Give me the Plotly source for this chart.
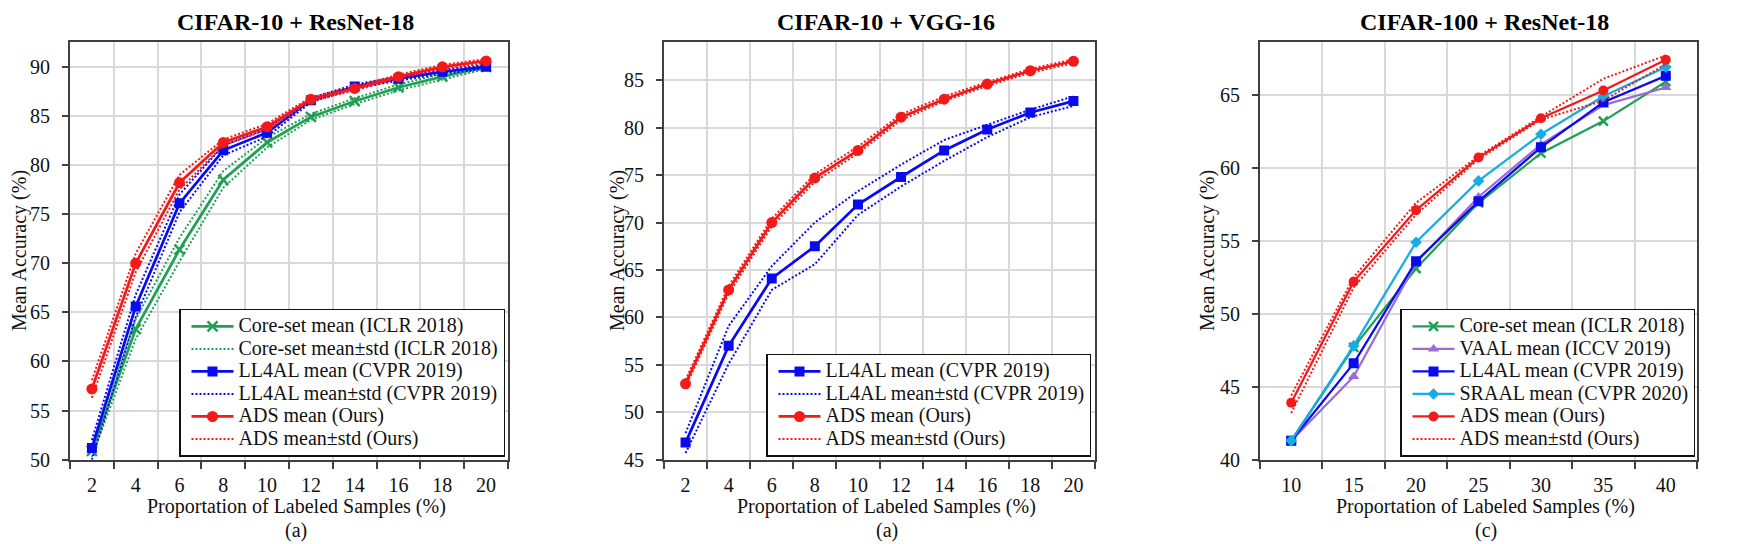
import plotly.graph_objects as go

# ---------------- data ----------------
x_c10 = [2, 4, 6, 8, 10, 12, 14, 16, 18, 20]
x_c100 = [10, 15, 20, 25, 30, 35, 40]

# Panel 1: CIFAR-10 + ResNet-18
p1_coreset_mean = [50.9, 63.3, 71.4, 78.5, 82.3, 84.9, 86.5, 87.9, 89.0, 90.0]
p1_coreset_upper = [51.5, 64.3, 72.6, 79.4, 82.8, 85.2, 86.8, 88.2, 89.3, 90.2]
p1_coreset_lower = [50.3, 62.3, 70.2, 77.7, 81.8, 84.6, 86.2, 87.6, 88.7, 89.8]
p1_ll4al_mean = [51.2, 65.6, 76.1, 81.5, 83.3, 86.6, 88.0, 88.8, 89.5, 90.0]
p1_ll4al_upper = [52.0, 66.8, 77.0, 82.0, 83.7, 86.8, 88.2, 89.0, 89.7, 90.2]
p1_ll4al_lower = [50.0, 64.5, 75.2, 81.0, 82.9, 86.4, 87.8, 88.6, 89.3, 89.8]
p1_ads_mean = [57.2, 70.0, 78.2, 82.3, 83.9, 86.7, 87.8, 89.0, 90.0, 90.6]
p1_ads_upper = [58.1, 71.0, 79.0, 82.6, 84.2, 86.9, 88.0, 89.2, 90.2, 90.8]
p1_ads_lower = [56.3, 69.1, 77.5, 82.0, 83.6, 86.5, 87.6, 88.8, 89.8, 90.4]

# Panel 2: CIFAR-10 + VGG-16
p2_ll4al_mean = [46.8, 57.0, 64.1, 67.5, 71.9, 74.8, 77.6, 79.8, 81.6, 82.8]
p2_ll4al_upper = [47.8, 59.1, 65.4, 70.0, 73.3, 76.1, 78.7, 80.3, 81.9, 83.3]
p2_ll4al_lower = [45.7, 55.1, 62.9, 65.6, 70.8, 73.8, 76.5, 79.0, 81.1, 82.3]
p2_ads_mean = [53.0, 62.9, 70.0, 74.7, 77.6, 81.1, 83.0, 84.6, 86.0, 87.0]
p2_ads_upper = [53.4, 63.3, 70.4, 75.1, 78.0, 81.4, 83.3, 84.8, 86.2, 87.2]
p2_ads_lower = [52.7, 62.5, 69.6, 74.3, 77.3, 80.8, 82.8, 84.4, 85.8, 86.8]

# Panel 3: CIFAR-100 + ResNet-18
p3_coreset_mean = [41.3, 47.7, 53.1, 57.6, 61.0, 63.2, 65.9]
p3_vaal_mean = [41.3, 45.7, 53.5, 58.0, 61.6, 64.3, 65.5]
p3_ll4al_mean = [41.3, 46.6, 53.6, 57.7, 61.4, 64.5, 66.3]
p3_sraal_mean = [41.3, 47.8, 54.9, 59.1, 62.3, 64.9, 66.9]
p3_ads_mean = [43.9, 52.2, 57.1, 60.7, 63.4, 65.3, 67.4]
p3_ads_upper = [44.4, 52.5, 57.6, 60.8, 63.5, 66.1, 67.7]
p3_ads_lower = [43.2, 51.8, 56.8, 60.6, 63.3, 64.6, 67.1]

titles = ["CIFAR-10 + ResNet-18", "CIFAR-10 + VGG-16", "CIFAR-100 + ResNet-18"]
sublabels = ["(a)", "(a)", "(c)"]
x_title = "Proportation of Labeled Samples (%)"
y_title = "Mean Accuracy (%)"

# ---------------- style ----------------
W, H = 1752, 544
FONT = "Liberation Serif"
GREEN = "#1FA055"
BLUE = "#0A0AF0"
RED = "#F41A1A"
PURPLE = "#9B6BD6"
CYAN = "#14ADE6"
GRID = "#D9D9D9"
AXIS = "#404040"
DOT = "2px,2px"
LEG_TEXT = 20      # rendered legend text size
LEG_ROW = 15       # legend font size used only for row spacing


def px_x(p):
    return p / W


def px_y(p):
    return (H - p) / H


def leg_name(s):
    return f'<span style="font-size:{LEG_TEXT}px">{s}</span>'


boxes = [(62, 500), (656, 1087), (1252, 1689)]
TOP, BOT = 35, 461
yranges = [[50, 92.5], [45, 89], [40, 68.6]]

fig = go.Figure()


def add_mean(xs, ys, name, color, symbol, axis, legend, size=10, width=2.75, mline=0):
    fig.add_trace(go.Scatter(
        x=xs, y=ys, name=leg_name(name), mode="lines+markers",
        line=dict(color=color, width=width),
        marker=dict(color=color, symbol=symbol, size=size,
                    line=dict(color=color, width=mline)),
        xaxis=f"x{axis}", yaxis=f"y{axis}", legend=legend, showlegend=True))


def add_std(xs, upper, lower, name, color, axis, legend):
    grp = f"{name}{axis}"
    fig.add_trace(go.Scatter(
        x=xs, y=upper, name=leg_name(name), mode="lines",
        line=dict(color=color, width=2, dash=DOT),
        xaxis=f"x{axis}", yaxis=f"y{axis}", legend=legend, showlegend=True,
        legendgroup=grp))
    fig.add_trace(go.Scatter(
        x=xs, y=lower, name=leg_name(name), mode="lines",
        line=dict(color=color, width=2, dash=DOT),
        xaxis=f"x{axis}", yaxis=f"y{axis}", legend=legend, showlegend=False,
        legendgroup=grp))


# Panel 1
add_mean(x_c10, p1_coreset_mean, "Core-set mean (ICLR 2018)", GREEN, "x-thin", "", "legend", size=10, mline=2.5)
add_std(x_c10, p1_coreset_upper, p1_coreset_lower, "Core-set mean±std (ICLR 2018)", GREEN, "", "legend")
add_mean(x_c10, p1_ll4al_mean, "LL4AL mean (CVPR 2019)", BLUE, "square", "", "legend", size=10)
add_std(x_c10, p1_ll4al_upper, p1_ll4al_lower, "LL4AL mean±std (CVPR 2019)", BLUE, "", "legend")
add_mean(x_c10, p1_ads_mean, "ADS mean (Ours)", RED, "circle", "", "legend", size=11)
add_std(x_c10, p1_ads_upper, p1_ads_lower, "ADS mean±std (Ours)", RED, "", "legend")

# Panel 2
add_mean(x_c10, p2_ll4al_mean, "LL4AL mean (CVPR 2019)", BLUE, "square", "2", "legend2", size=10)
add_std(x_c10, p2_ll4al_upper, p2_ll4al_lower, "LL4AL mean±std (CVPR 2019)", BLUE, "2", "legend2")
add_mean(x_c10, p2_ads_mean, "ADS mean (Ours)", RED, "circle", "2", "legend2", size=11)
add_std(x_c10, p2_ads_upper, p2_ads_lower, "ADS mean±std (Ours)", RED, "2", "legend2")

# Panel 3
add_mean(x_c100, p3_coreset_mean, "Core-set mean (ICLR 2018)", GREEN, "x-thin", "3", "legend3", size=9, width=2.25, mline=2.5)
add_mean(x_c100, p3_vaal_mean, "VAAL mean (ICCV 2019)", PURPLE, "triangle-up", "3", "legend3", size=10, width=2.25)
add_mean(x_c100, p3_ll4al_mean, "LL4AL mean (CVPR 2019)", BLUE, "square", "3", "legend3", size=10, width=2.25)
add_mean(x_c100, p3_sraal_mean, "SRAAL mean (CVPR 2020)", CYAN, "diamond", "3", "legend3", size=9, width=2.25)
add_mean(x_c100, p3_ads_mean, "ADS mean (Ours)", RED, "circle", "3", "legend3", size=10, width=2.25)
add_std(x_c100, p3_ads_upper, p3_ads_lower, "ADS mean±std (Ours)", RED, "3", "legend3")

xsets = [x_c10, x_c10, x_c100]
layout = dict(
    width=W, height=H, autosize=False,
    margin=dict(l=0, r=0, t=0, b=0),
    paper_bgcolor="white", plot_bgcolor="white",
    font=dict(family=FONT, size=20, color="black"),
    annotations=[],
)

for i in range(3):
    sfx = "" if i == 0 else str(i + 1)
    xs = xsets[i]
    step = xs[1] - xs[0]
    bounds = [v - step / 2 for v in xs] + [xs[-1] + step / 2]
    l, r = boxes[i]
    layout[f"xaxis{sfx}"] = dict(
        domain=[px_x(l), px_x(r)], range=[bounds[0], bounds[-1]],
        anchor=f"y{sfx}",
        tickmode="array", tickvals=xs, ticktext=[str(v) for v in xs],
        ticks="", showgrid=False, zeroline=False,
        showline=True, mirror=True, linecolor=AXIS, linewidth=2,
        ticklabelstandoff=6,
        tickfont=dict(family=FONT, size=20, color="#111"),
        minor=dict(tickmode="array", tickvals=bounds, ticks="outside", ticklen=7,
                   tickcolor=AXIS, tickwidth=2, showgrid=True, gridcolor=GRID, gridwidth=1.5),
        fixedrange=True,
    )
    layout[f"yaxis{sfx}"] = dict(
        domain=[px_y(BOT), px_y(TOP)], range=yranges[i], anchor=f"x{sfx}",
        dtick=5, tick0=0, ticks="outside", ticklen=6, tickcolor=AXIS, tickwidth=2,
        showgrid=True, gridcolor=GRID, gridwidth=1.5, zeroline=False,
        showline=True, mirror=True, linecolor=AXIS, linewidth=2,
        ticklabelstandoff=8,
        tickfont=dict(family=FONT, size=20, color="#111"),
        fixedrange=True,
    )
    cx = (l + r) / 2
    layout["annotations"] += [
        dict(text=f"<b>{titles[i]}</b>", x=px_x(cx + 6), y=px_y(14), xref="paper", yref="paper",
             xanchor="center", yanchor="middle", showarrow=False,
             font=dict(family=FONT, size=24, color="black")),
        dict(text=x_title, x=px_x(cx + 7), y=px_y(509), xref="paper", yref="paper",
             xanchor="center", yanchor="middle", showarrow=False,
             font=dict(family=FONT, size=20, color="#111")),
        dict(text=sublabels[i], x=px_x(cx + 7), y=px_y(533), xref="paper", yref="paper",
             xanchor="center", yanchor="middle", showarrow=False,
             font=dict(family=FONT, size=20, color="#111")),
        dict(text=y_title, x=px_x(l - 50 + (4 if i == 1 else 0) - (2 if i == 2 else 0)), y=px_y(248),
             xref="paper", yref="paper", textangle=-90,
             xanchor="center", yanchor="middle", showarrow=False,
             font=dict(family=FONT, size=20, color="#111")),
    ]

legend_boxes = {"legend": (497, 458), "legend2": (1083, 458), "legend3": (1687, 458)}
for key, (rx, by) in legend_boxes.items():
    layout[key] = dict(
        x=px_x(rx), y=px_y(by), xanchor="right", yanchor="bottom",
        bgcolor="white", bordercolor="#111", borderwidth=1.5,
        font=dict(family=FONT, size=LEG_ROW, color="#111"),
        tracegroupgap=0, itemwidth=42, indentation=6,
    )

fig.update_layout(**layout)
fig.write_html("out.html")
